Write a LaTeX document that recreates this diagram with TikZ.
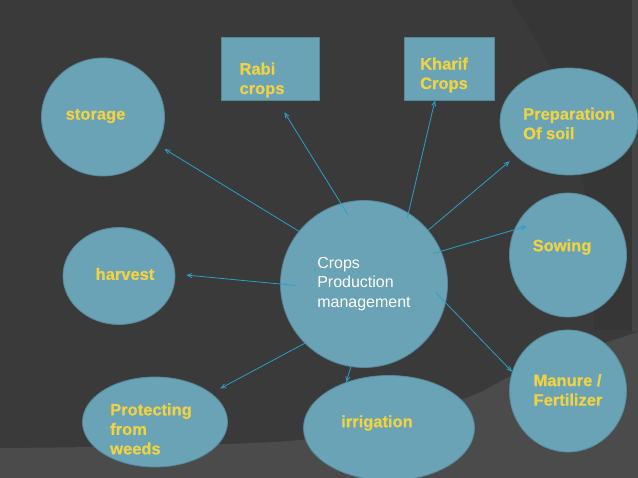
\documentclass[tikz,border=0pt]{standalone}
\usepackage{fontspec}
\setmainfont{Liberation Sans}
\newfontfamily\lblfont{Liberation Sans Bold}[FakeBold=0.8]
\usetikzlibrary{shapes,arrows}
\definecolor{bgdark}{HTML}{3A3A3A}
\definecolor{bgshade}{HTML}{363636}
\definecolor{bglight}{HTML}{4B4B4B}
\definecolor{bgedge}{HTML}{444444}
\definecolor{blobfill}{HTML}{6AA3B5}
\definecolor{blobline}{HTML}{54899B}
\definecolor{arrowblue}{HTML}{2A9FC8}
\definecolor{labelyellow}{HTML}{F0D245}
\tikzstyle{blob} = [ellipse, draw=blobline, fill=blobfill, line width=0.8pt, inner sep=0pt]
\tikzstyle{box} = [rectangle, draw=blobline, fill=blobfill, line width=0.8pt, inner sep=0pt]
\tikzstyle{lbl} = [text=labelyellow, align=left, font=\lblfont\fontsize{16.5}{19.5}\selectfont]

\begin{document}
\begin{tikzpicture}[->,>=angle 45,x=1pt,y=-1pt,
  every edge/.style={draw=arrowblue, line width=0.8pt}]
\useasboundingbox (0,0) rectangle (638,478);

% slide background
\fill[bgdark] (0,0) rectangle (638,478);
\fill[bgshade] (510,0) .. controls (560,70) and (592,150) .. (594,330) -- (638,330) -- (638,0) -- cycle;
\fill[bglight] plot[smooth] coordinates {(0,448) (300,440) (460,400) (520,372) (638,332)} -- (638,478) -- (0,478) -- cycle;
\fill[bgedge] (632,0) rectangle (638,332);

\node[blob, minimum width=167, minimum height=167, text=white, align=left,
  font=\fontsize{16}{19.5}\selectfont] (crops) at (364,284) {Crops\\Production\\management};
\node[blob, minimum width=123, minimum height=118,
  label={[lbl, xshift=-7.5pt, yshift=1pt]center:storage}] (storage) at (103,117) {};
\node[box, minimum width=98, minimum height=63,
  label={[lbl, xshift=-8pt, yshift=-11.5pt]center:Rabi\\crops}] (rabi) at (270,68.5) {};
\node[box, minimum width=90, minimum height=63,
  label={[lbl, xshift=-5pt, yshift=-6.5pt]center:Kharif\\Crops}] (kharif) at (449,68.5) {};
\node[blob, minimum width=138, minimum height=107,
  label={[lbl, yshift=-2pt]center:Preparation\\Of soil}] (soil) at (569,121.5) {};
\node[blob, minimum width=117, minimum height=124,
  label={[lbl, xshift=-6pt, yshift=8pt]center:Sowing}] (sowing) at (568,255) {};
\node[blob, minimum width=117, minimum height=122,
  label={[lbl, yshift=1pt]center:Manure /\\Fertilizer}] (manure) at (568,391) {};
\node[blob, minimum width=171, minimum height=105,
  label={[lbl, xshift=-12pt, yshift=5pt]center:irrigation}] (irrigation) at (389,428) {};
\node[blob, minimum width=145, minimum height=90,
  label={[lbl, xshift=-4pt, yshift=-7pt]center:Protecting\\from\\weeds}] (weeds) at (155,422) {};
\node[blob, minimum width=112, minimum height=97,
  label={[lbl, xshift=6pt, yshift=2pt]center:harvest}] (harvest) at (119,276) {};

\path
(crops.141) edge [shorten >=8pt] (storage.-27)
(crops.106) edge [shorten <=-14pt, shorten >=14pt] ([xshift=7pt]rabi.south)
(crops.58) edge [shorten <=-5pt] ([xshift=-14pt]kharif.south)
(crops.40) edge [shorten >=8pt] (soil.213)
(crops.23) edge [shorten <=-8pt, shorten >=-13pt] (sowing.155)
(crops.180) edge [shorten <=-16pt, shorten >=11pt] (harvest.2)
(crops.-13) edge [shorten <=-14pt] (manure.161)
(crops.-99) edge [] (irrigation.133)
(crops.-135) edge [shorten >=10pt] (weeds.27);
\end{tikzpicture}
\end{document}
